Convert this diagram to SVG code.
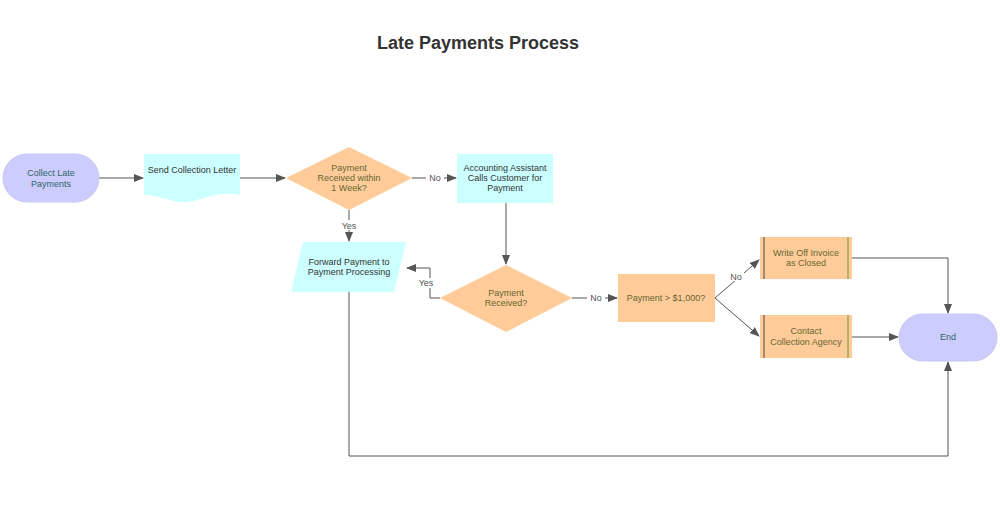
<svg xmlns="http://www.w3.org/2000/svg" width="1000" height="524" viewBox="0 0 1000 524">
<defs>
<style>
text{font-family:"Liberation Sans",Arial,sans-serif;font-size:9px;text-anchor:middle}
.t{fill:#336666}.c{fill:#333}.o{fill:#666633}
.term{fill:#ccccff;stroke:#c8c8f0}
.cy{fill:#ccffff}
.or{fill:#ffcc99}
.ln{fill:none;stroke:#555;stroke-width:1}
.lb{fill:#555}
</style>
<marker id="a" markerWidth="10" markerHeight="8" refX="9" refY="4" orient="auto" markerUnits="userSpaceOnUse"><path d="M0,0L10,4L0,8z" fill="#555"/></marker>
</defs>
<rect width="1000" height="524" fill="#fff"/>
<text x="478" y="49" style="font-size:18px;font-weight:bold;fill:#333">Late Payments Process</text>
<g id="connectors">
<path class="ln" d="M99,178H143" marker-end="url(#a)"/>
<path class="ln" d="M240,178H285" marker-end="url(#a)"/>
<path class="ln" d="M412,178H456" marker-end="url(#a)"/>
<path class="ln" d="M349,210V241" marker-end="url(#a)"/>
<path class="ln" d="M506,203V264" marker-end="url(#a)"/>
<path class="ln" d="M440,298H430V268H407" marker-end="url(#a)"/>
<path class="ln" d="M572,298H617" marker-end="url(#a)"/>
<path class="ln" d="M715,298L759,260" marker-end="url(#a)"/>
<path class="ln" d="M715,298L759,336" marker-end="url(#a)"/>
<path class="ln" d="M852,258H948V313" marker-end="url(#a)"/>
<path class="ln" d="M852,337H898" marker-end="url(#a)"/>
<path class="ln" d="M349,292V456H948V362" marker-end="url(#a)"/>
<rect x="426" y="173" width="18" height="10" fill="#fff"/><text class="lb" x="435" y="181">No</text>
<rect x="339" y="220" width="20" height="10" fill="#fff"/><text class="lb" x="349" y="229">Yes</text>
<rect x="416" y="278" width="20" height="10" fill="#fff"/><text class="lb" x="426" y="286">Yes</text>
<rect x="587" y="293" width="18" height="10" fill="#fff"/><text class="lb" x="596" y="301">No</text>
<rect x="728" y="271" width="16" height="10" fill="#fff"/><text class="lb" x="736" y="280">No</text>
</g>
<g id="collect"><rect class="term" x="3" y="154" width="96" height="48" rx="24"/><text class="t" x="51" y="176">Collect Late</text><text class="t" x="51" y="187">Payments</text></g>
<g id="send"><path class="cy" d="M144,154H240V195C215,190 200,202 185,202C168,202 160,195 144,195Z"/><text class="c" x="192" y="173">Send Collection Letter</text></g>
<g id="d1"><path class="or" d="M286,178L349,147L412,178L349,210Z"/><text class="o" x="349" y="171">Payment</text><text class="o" x="349" y="181">Received within</text><text class="o" x="349" y="191">1 Week?</text></g>
<g id="acct"><rect class="cy" x="457" y="154" width="96" height="49"/><text class="c" x="505" y="171">Accounting Assistant</text><text class="c" x="505" y="181">Calls Customer for</text><text class="c" x="505" y="191">Payment</text></g>
<g id="fwd"><path class="cy" d="M303,242H406L394,292H291Z"/><text class="c" x="349" y="265">Forward Payment to</text><text class="c" x="349" y="275">Payment Processing</text></g>
<g id="d2"><path class="or" d="M440,298L506,265L572,298L506,332Z"/><text class="o" x="506" y="296">Payment</text><text class="o" x="506" y="306">Received?</text></g>
<g id="amt"><rect class="or" x="618" y="274" width="97" height="48"/><text class="o" x="666" y="301">Payment &gt; $1,000?</text></g>
<g id="wo"><rect class="or" x="760" y="237" width="92" height="42"/><path d="M764,237V279" stroke="#444"/><path d="M848,237V279" stroke="#669933"/><text class="o" x="806" y="256">Write Off Invoice</text><text class="o" x="806" y="266">as Closed</text></g>
<g id="ca"><rect class="or" x="760" y="315" width="92" height="43"/><path d="M764,315V358" stroke="#444"/><path d="M848,315V358" stroke="#669933"/><text class="o" x="806" y="334">Contact</text><text class="o" x="806" y="345">Collection Agency</text></g>
<g id="end"><rect class="term" x="899" y="314" width="98" height="47" rx="23.5"/><text class="t" x="948" y="340">End</text></g>
</svg>
